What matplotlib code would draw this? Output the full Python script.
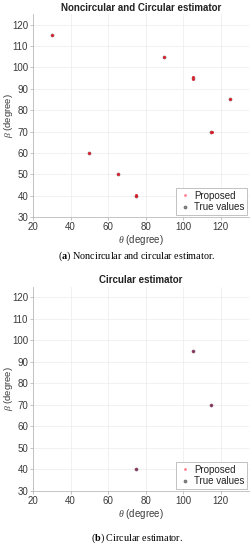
import matplotlib.pyplot as plt

plt.rcParams['font.family'] = ['Liberation Sans', 'DejaVu Sans']
plt.rcParams['mathtext.fontset'] = 'custom'
plt.rcParams['mathtext.rm'] = 'Liberation Serif'
plt.rcParams['mathtext.it'] = 'Liberation Serif:italic'
plt.rcParams['mathtext.bf'] = 'Liberation Serif:bold'

# (a) noncircular and circular estimator
theta_true_a = [30, 50, 65, 75, 90, 105, 115, 125]
beta_true_a = [115, 60, 50, 40, 105, 95, 70, 85]
theta_prop_a = [30, 50, 65, 75, 75, 90, 105, 105, 115, 115.4, 125]
beta_prop_a = [115, 60, 50, 39.6, 40.4, 105, 94.6, 95.4, 70, 70, 85]

# (b) circular estimator
theta_true_b = [75, 105, 115]
beta_true_b = [40, 95, 70]
theta_prop_b = [75, 105, 115]
beta_prop_b = [40, 95, 70]

xticks = [20, 40, 60, 80, 100, 120]
yticks = [30, 40, 50, 60, 70, 80, 90, 100, 110, 120]

fig = plt.figure(figsize=(2.51, 5.5), dpi=100)
ax1 = fig.add_axes([0.1315, 0.6055, 0.8605, 0.369])
ax2 = fig.add_axes([0.1315, 0.1073, 0.8605, 0.3714])


def draw(ax, tt, bt, tp, bp, title, dot_color):
    ax.plot(tp, bp, linestyle='none', marker='.', ms=2.0, color='#ff8090',
            label='Proposed', zorder=3)
    ax.plot(tt, bt, linestyle='none', marker='o', ms=2.2, mfc='#8a8a8a',
            mec='#555555', mew=0.4, label='True values', zorder=2)
    ax.plot(tp, bp, linestyle='none', marker='o', ms=2.0, mew=0,
            color=dot_color, zorder=4)
    ax.set_xlim(20, 135)
    ax.set_ylim(30, 125)
    ax.set_xticks(xticks)
    ax.set_yticks(yticks)
    ax.tick_params(labelsize=7, colors='#3a3a3a', length=2, width=0.5,
                   pad=1.5)
    ax.tick_params(axis='both', color='#aaaaaa')
    ax.grid(True, color='#ececec', linewidth=0.5)
    ax.set_axisbelow(True)
    for s in ['top', 'right']:
        ax.spines[s].set_visible(False)
    for s in ['left', 'bottom']:
        ax.spines[s].set_color('#bbbbbb')
        ax.spines[s].set_linewidth(0.6)
    ax.set_title(title, fontsize=7, fontweight='bold', color='#222222', pad=2.5)
    ax.set_xlabel(r'$\theta$ (degree)', fontsize=7, color='#3a3a3a', labelpad=1)
    ax.set_ylabel(r'$\beta$ (degree)', fontsize=6.8, color='#3a3a3a', va='center')
    ax.yaxis.set_label_coords(-0.112, 0.5)
    leg = ax.legend(loc='lower right', fontsize=7, frameon=True, fancybox=False,
                    borderpad=0.3, handletextpad=0.3, handlelength=1.2,
                    labelspacing=0.15, borderaxespad=0.2, framealpha=1)
    leg.get_frame().set_edgecolor('#aaaaaa')
    leg.get_frame().set_linewidth(0.5)
    for t in leg.get_texts():
        t.set_color('#222222')


draw(ax1, theta_true_a, beta_true_a, theta_prop_a, beta_prop_a,
     'Noncircular and Circular estimator', '#d0202a')
draw(ax2, theta_true_b, beta_true_b, theta_prop_b, beta_prop_b,
     'Circular estimator', '#7a3060')

fig.text(0.545, 1 - 256.7 / 550, r'($\mathbf{a}$) Noncircular and circular estimator.',
         ha='center', va='center', fontsize=7.3, family='Liberation Serif')
fig.text(0.545, 1 - 538 / 550, r'($\mathbf{b}$) Circular estimator.',
         ha='center', va='center', fontsize=7.3, family='Liberation Serif')

fig.savefig('out.png', dpi=100)
